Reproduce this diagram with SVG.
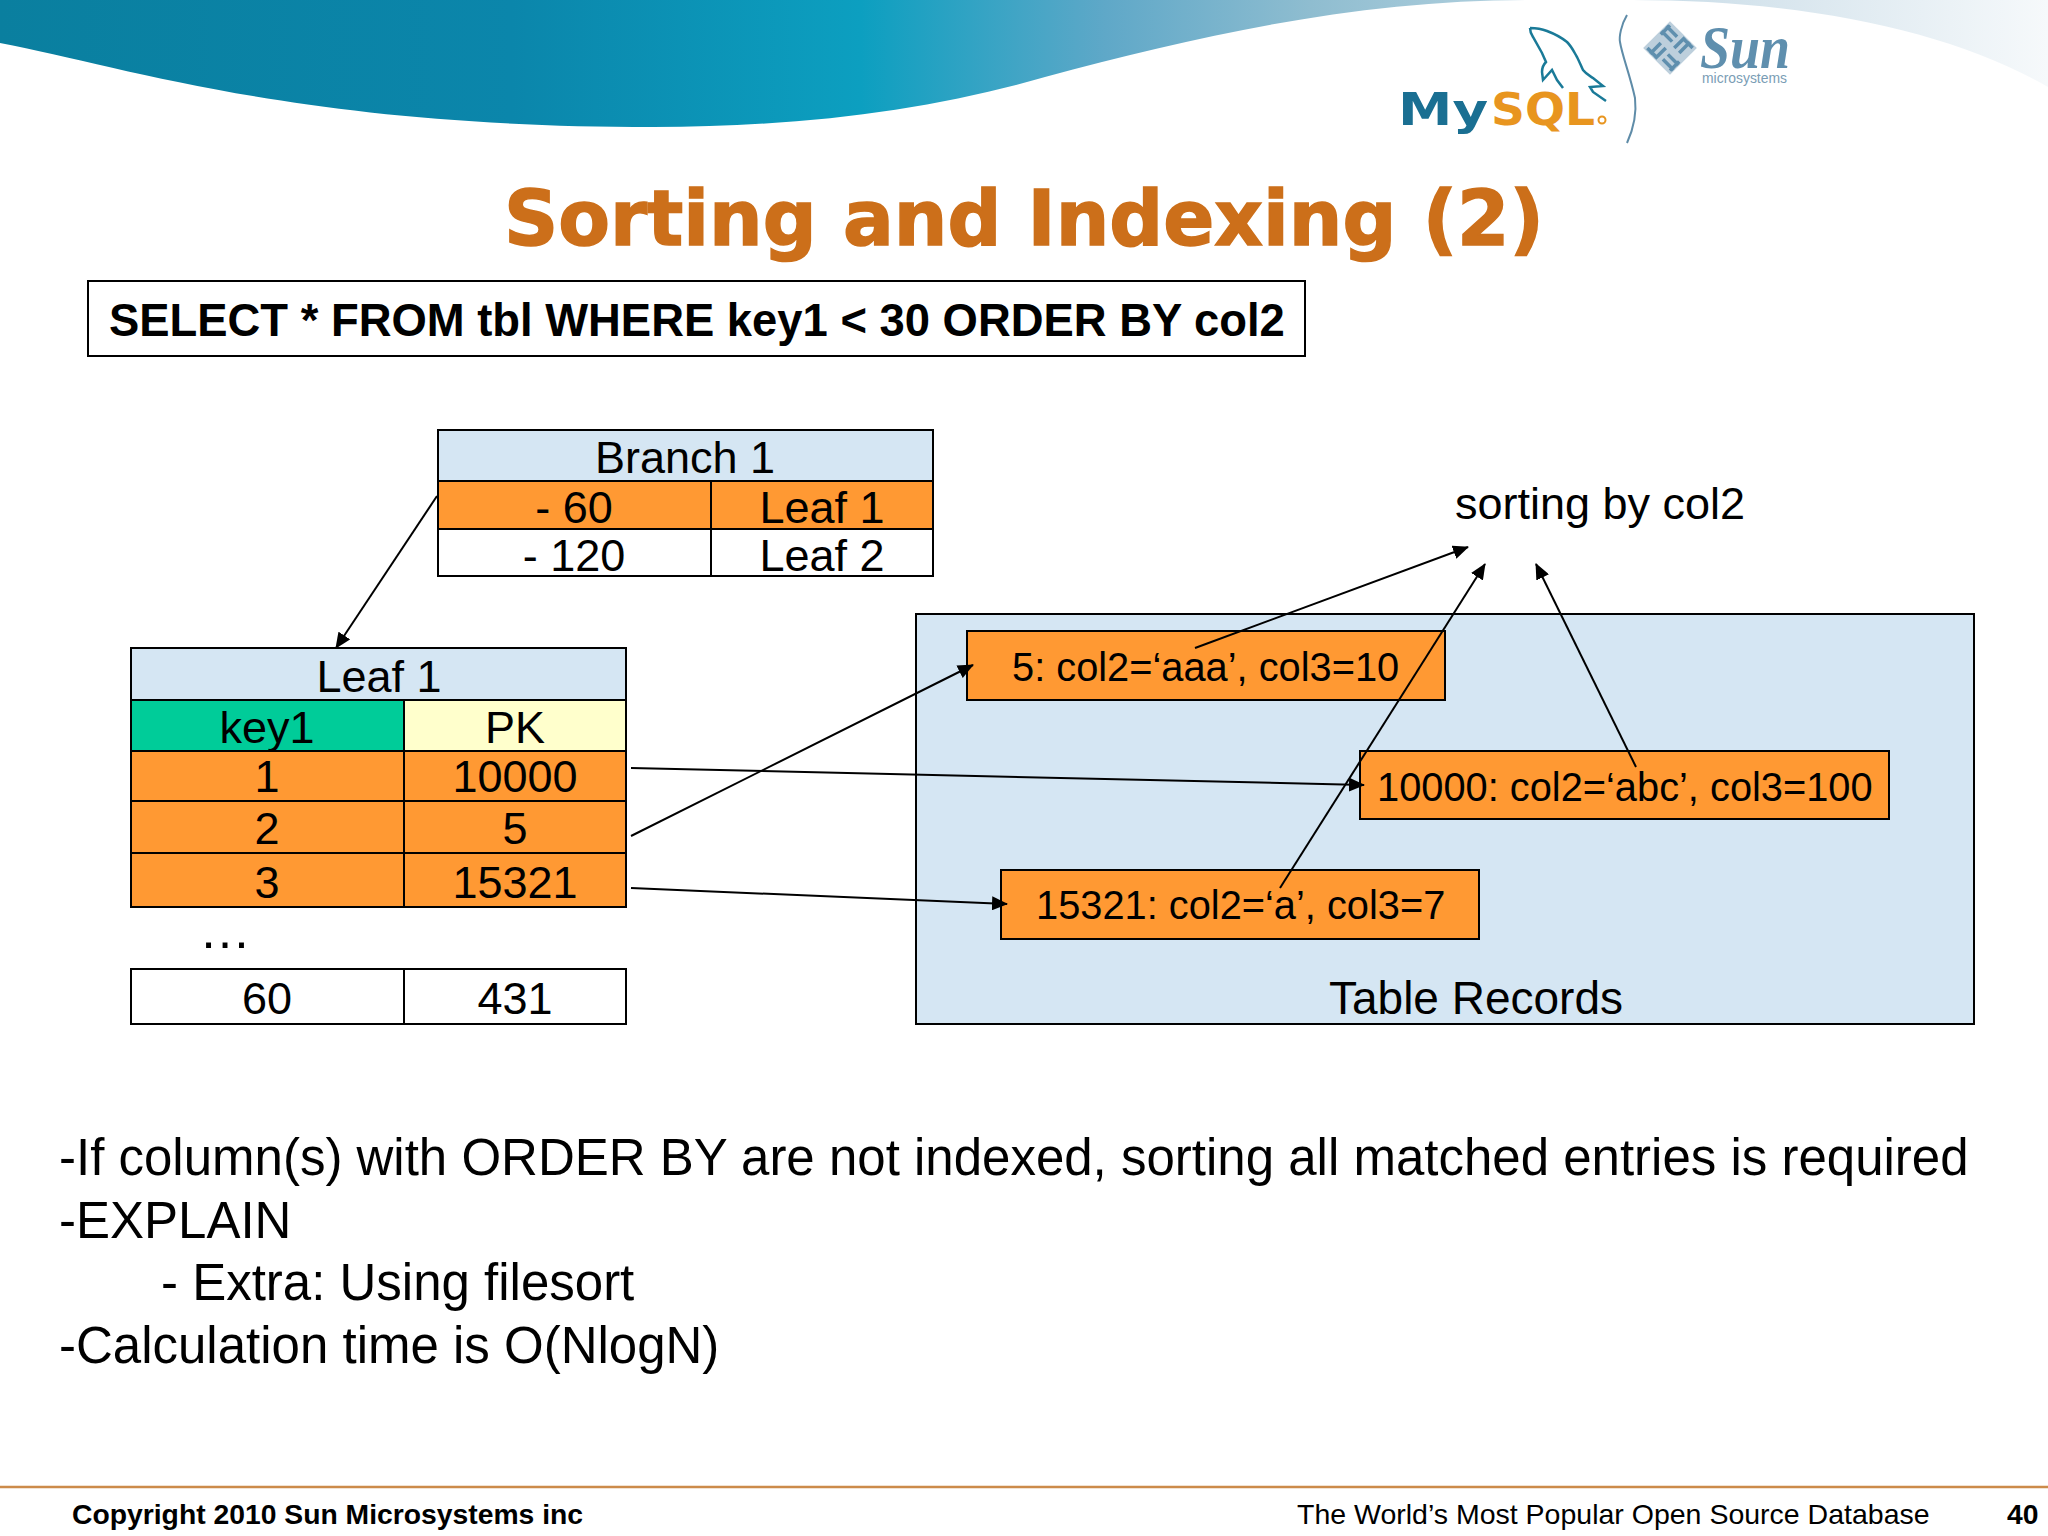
<svg xmlns="http://www.w3.org/2000/svg" width="2048" height="1536" viewBox="0 0 2048 1536">
<defs>
<linearGradient id="wave" x1="0" y1="0" x2="2048" y2="0" gradientUnits="userSpaceOnUse">
<stop offset="0" stop-color="#0a7f9f"/><stop offset="0.25" stop-color="#0b86ab"/><stop offset="0.42" stop-color="#0c9fc0"/><stop offset="0.54" stop-color="#5fa8c8"/><stop offset="0.64" stop-color="#8fbdd0"/><stop offset="0.83" stop-color="#cfe0ea"/><stop offset="1" stop-color="#f6f9fb"/>
</linearGradient>
<marker id="arrow" viewBox="0 0 16 14" refX="15" refY="7" markerWidth="16" markerHeight="14" markerUnits="userSpaceOnUse" orient="auto"><path d="M0,0 L16,7 L0,14 Z" fill="#000"/></marker>
</defs>
<style>
text{font-family:"Liberation Sans",Arial,sans-serif;fill:#000}
.c{text-anchor:middle;font-size:45px}
.r{font-size:39.8px}
.b{font-size:51px}
.f{font-size:28.5px}
.fb{font-size:28.3px;font-weight:700}
.cell{stroke:#000;stroke-width:2}
.o{fill:#ff9933}.bl{fill:#d5e6f3}.w{fill:#fff}.g{fill:#00cc99}.y{fill:#ffffcc}
.conn line{stroke:#000;stroke-width:2;marker-end:url(#arrow)}
</style>
<rect width="2048" height="1536" fill="#fff"/>
<g id="header">
<path d="M0,0 L0,43 C130,68 300,127 653,127 C800,127 930,110 1045,77 C1200,35 1360,0 1528,0 L1633,0 C1800,0 1950,30 2048,87 L2048,0 Z" fill="url(#wave)"/>
</g>
<g id="logo">
<path d="M1627,15 C1621,25 1619,37 1620,42 C1622,55 1630,75 1635,98 C1637,115 1632,132 1627,143" fill="none" stroke="#5f8ca8" stroke-width="2"/>
<path d="M1530,28 C1536,28 1542,29 1547,31 C1555,34 1562,38 1567,42 C1572,47 1574,52 1577,57 C1580,63 1581,66 1583,70 C1586,74 1590,76 1593,78 L1603,86 L1590,87 L1593,92 L1606,101 M1530,28 C1530,32 1531,34 1533,37 L1542,53 L1546,62 C1542,66 1542,70 1542,72 L1543,80 L1552,70 L1557,80 L1563,88" fill="none" stroke="#1a7a98" stroke-width="2.5"/>
<text x="1398" y="125" font-size="44" font-weight="700" style="font-family:'DejaVu Sans',sans-serif;fill:#1a6f92" textLength="90" lengthAdjust="spacingAndGlyphs">My</text>
<text x="1491" y="125" font-size="44" font-weight="700" style="font-family:'DejaVu Sans',sans-serif;fill:#e8951f" textLength="104" lengthAdjust="spacingAndGlyphs">SQL</text>
<circle cx="1602" cy="120" r="3.5" fill="none" stroke="#e8951f" stroke-width="2"/>
<g transform="translate(1670,48) rotate(45)" fill="none" stroke="#5f8fae" stroke-width="3.5">
<rect x="-19" y="-19" width="38" height="38" fill="#6d95b1" fill-opacity="0.45" stroke="none"/>
<path d="M-18,-13 H-3 M-18,-6 H-3 M3,-18 V-3 M10,-18 V-3 M18,13 H3 M18,6 H3 M-3,18 V3 M-10,18 V3 M-16,-16 V-3 M16,16 V3 M3,-16 H16 M-3,16 H-16"/>
</g>
<text x="1700" y="68" font-size="62" font-style="italic" font-weight="700" style="font-family:'Liberation Serif',serif;fill:#5f8fae" textLength="90" lengthAdjust="spacingAndGlyphs">Sun</text>
<text x="1702" y="83" font-size="14" style="fill:#7a9db5" textLength="85" lengthAdjust="spacingAndGlyphs">microsystems</text>
</g>
<text id="title" x="504" y="245" font-size="77" font-weight="700" stroke="#cc6f1a" stroke-width="1.5" textLength="1040" lengthAdjust="spacingAndGlyphs" style="font-family:'DejaVu Sans',sans-serif;fill:#cc6f1a">Sorting and Indexing (2)</text>
<g id="query">
<rect x="88" y="281" width="1217" height="75" fill="#fff" stroke="#000" stroke-width="2"/>
<text x="109" y="336" font-size="45.4" font-weight="700">SELECT * FROM tbl WHERE key1 &lt; 30 ORDER BY col2</text>
</g>
<g id="branch">
<rect class="cell bl" x="438" y="430" width="495" height="51"/>
<rect class="cell o" x="438" y="481" width="273" height="48"/>
<rect class="cell o" x="711" y="481" width="222" height="48"/>
<rect class="cell w" x="438" y="529" width="273" height="47"/>
<rect class="cell w" x="711" y="529" width="222" height="47"/>
<text class="c" x="685" y="473">Branch 1</text>
<text class="c" x="574" y="523">- 60</text>
<text class="c" x="822" y="523">Leaf 1</text>
<text class="c" x="574" y="571">- 120</text>
<text class="c" x="822" y="571">Leaf 2</text>
</g>
<g id="leaf">
<rect class="cell bl" x="131" y="648" width="495" height="52"/>
<rect class="cell g" x="131" y="700" width="273" height="51"/>
<rect class="cell y" x="404" y="700" width="222" height="51"/>
<rect class="cell o" x="131" y="751" width="273" height="50"/>
<rect class="cell o" x="404" y="751" width="222" height="50"/>
<rect class="cell o" x="131" y="801" width="273" height="52"/>
<rect class="cell o" x="404" y="801" width="222" height="52"/>
<rect class="cell o" x="131" y="853" width="273" height="54"/>
<rect class="cell o" x="404" y="853" width="222" height="54"/>
<rect class="cell w" x="131" y="969" width="273" height="55"/>
<rect class="cell w" x="404" y="969" width="222" height="55"/>
<text class="c" x="379" y="692">Leaf 1</text>
<text class="c" x="267" y="743">key1</text>
<text class="c" x="515" y="743">PK</text>
<text class="c" x="267" y="792">1</text>
<text class="c" x="515" y="792">10000</text>
<text class="c" x="267" y="844">2</text>
<text class="c" x="515" y="844">5</text>
<text class="c" x="267" y="898">3</text>
<text class="c" x="515" y="898">15321</text>
<text class="c" x="225" y="948" style="font-size:52px">…</text>
<text class="c" x="267" y="1014">60</text>
<text class="c" x="515" y="1014">431</text>
</g>
<g id="records">
<rect class="cell bl" x="916" y="614" width="1058" height="410"/>
<text class="c" x="1476" y="1014" style="font-size:46px">Table Records</text>
</g>
<g id="rec5">
<rect class="cell o" x="967" y="631" width="478" height="69"/>
<text class="r" x="1012" y="681">5: col2=‘aaa’, col3=10</text>
</g>
<g id="rec10000">
<rect class="cell o" x="1360" y="751" width="529" height="68"/>
<text class="r" x="1377" y="801">10000: col2=‘abc’, col3=100</text>
</g>
<g id="rec15321">
<rect class="cell o" x="1001" y="870" width="478" height="69"/>
<text class="r" x="1036" y="919">15321: col2=‘a’, col3=7</text>
</g>
<text class="c" x="1600" y="519">sorting by col2</text>
<g id="connectors" class="conn">
<line x1="437" y1="496" x2="336" y2="648"/>
<line x1="631" y1="768" x2="1364" y2="785"/>
<line x1="631" y1="836" x2="973" y2="665"/>
<line x1="631" y1="888" x2="1007" y2="904"/>
<line x1="1195" y1="648" x2="1468" y2="547"/>
<line x1="1280" y1="888" x2="1485" y2="564"/>
<line x1="1636" y1="767" x2="1536" y2="564"/>
</g>
<g id="bullets">
<text class="b" x="59" y="1175">-If column(s) with ORDER BY are not indexed, sorting all matched entries is required</text>
<text class="b" x="59" y="1238">-EXPLAIN</text>
<text class="b" x="161" y="1300">- Extra: Using filesort</text>
<text class="b" x="59" y="1363">-Calculation time is O(NlogN)</text>
</g>
<g id="footer">
<line x1="0" y1="1487" x2="2048" y2="1487" stroke="#cc8b4a" stroke-width="2.5"/>
<text class="fb" x="72" y="1524">Copyright 2010 Sun Microsystems inc</text>
<text class="f" x="1297" y="1524">The World’s Most Popular Open Source Database</text>
<text class="fb" x="2007" y="1524">40</text>
</g>
</svg>
